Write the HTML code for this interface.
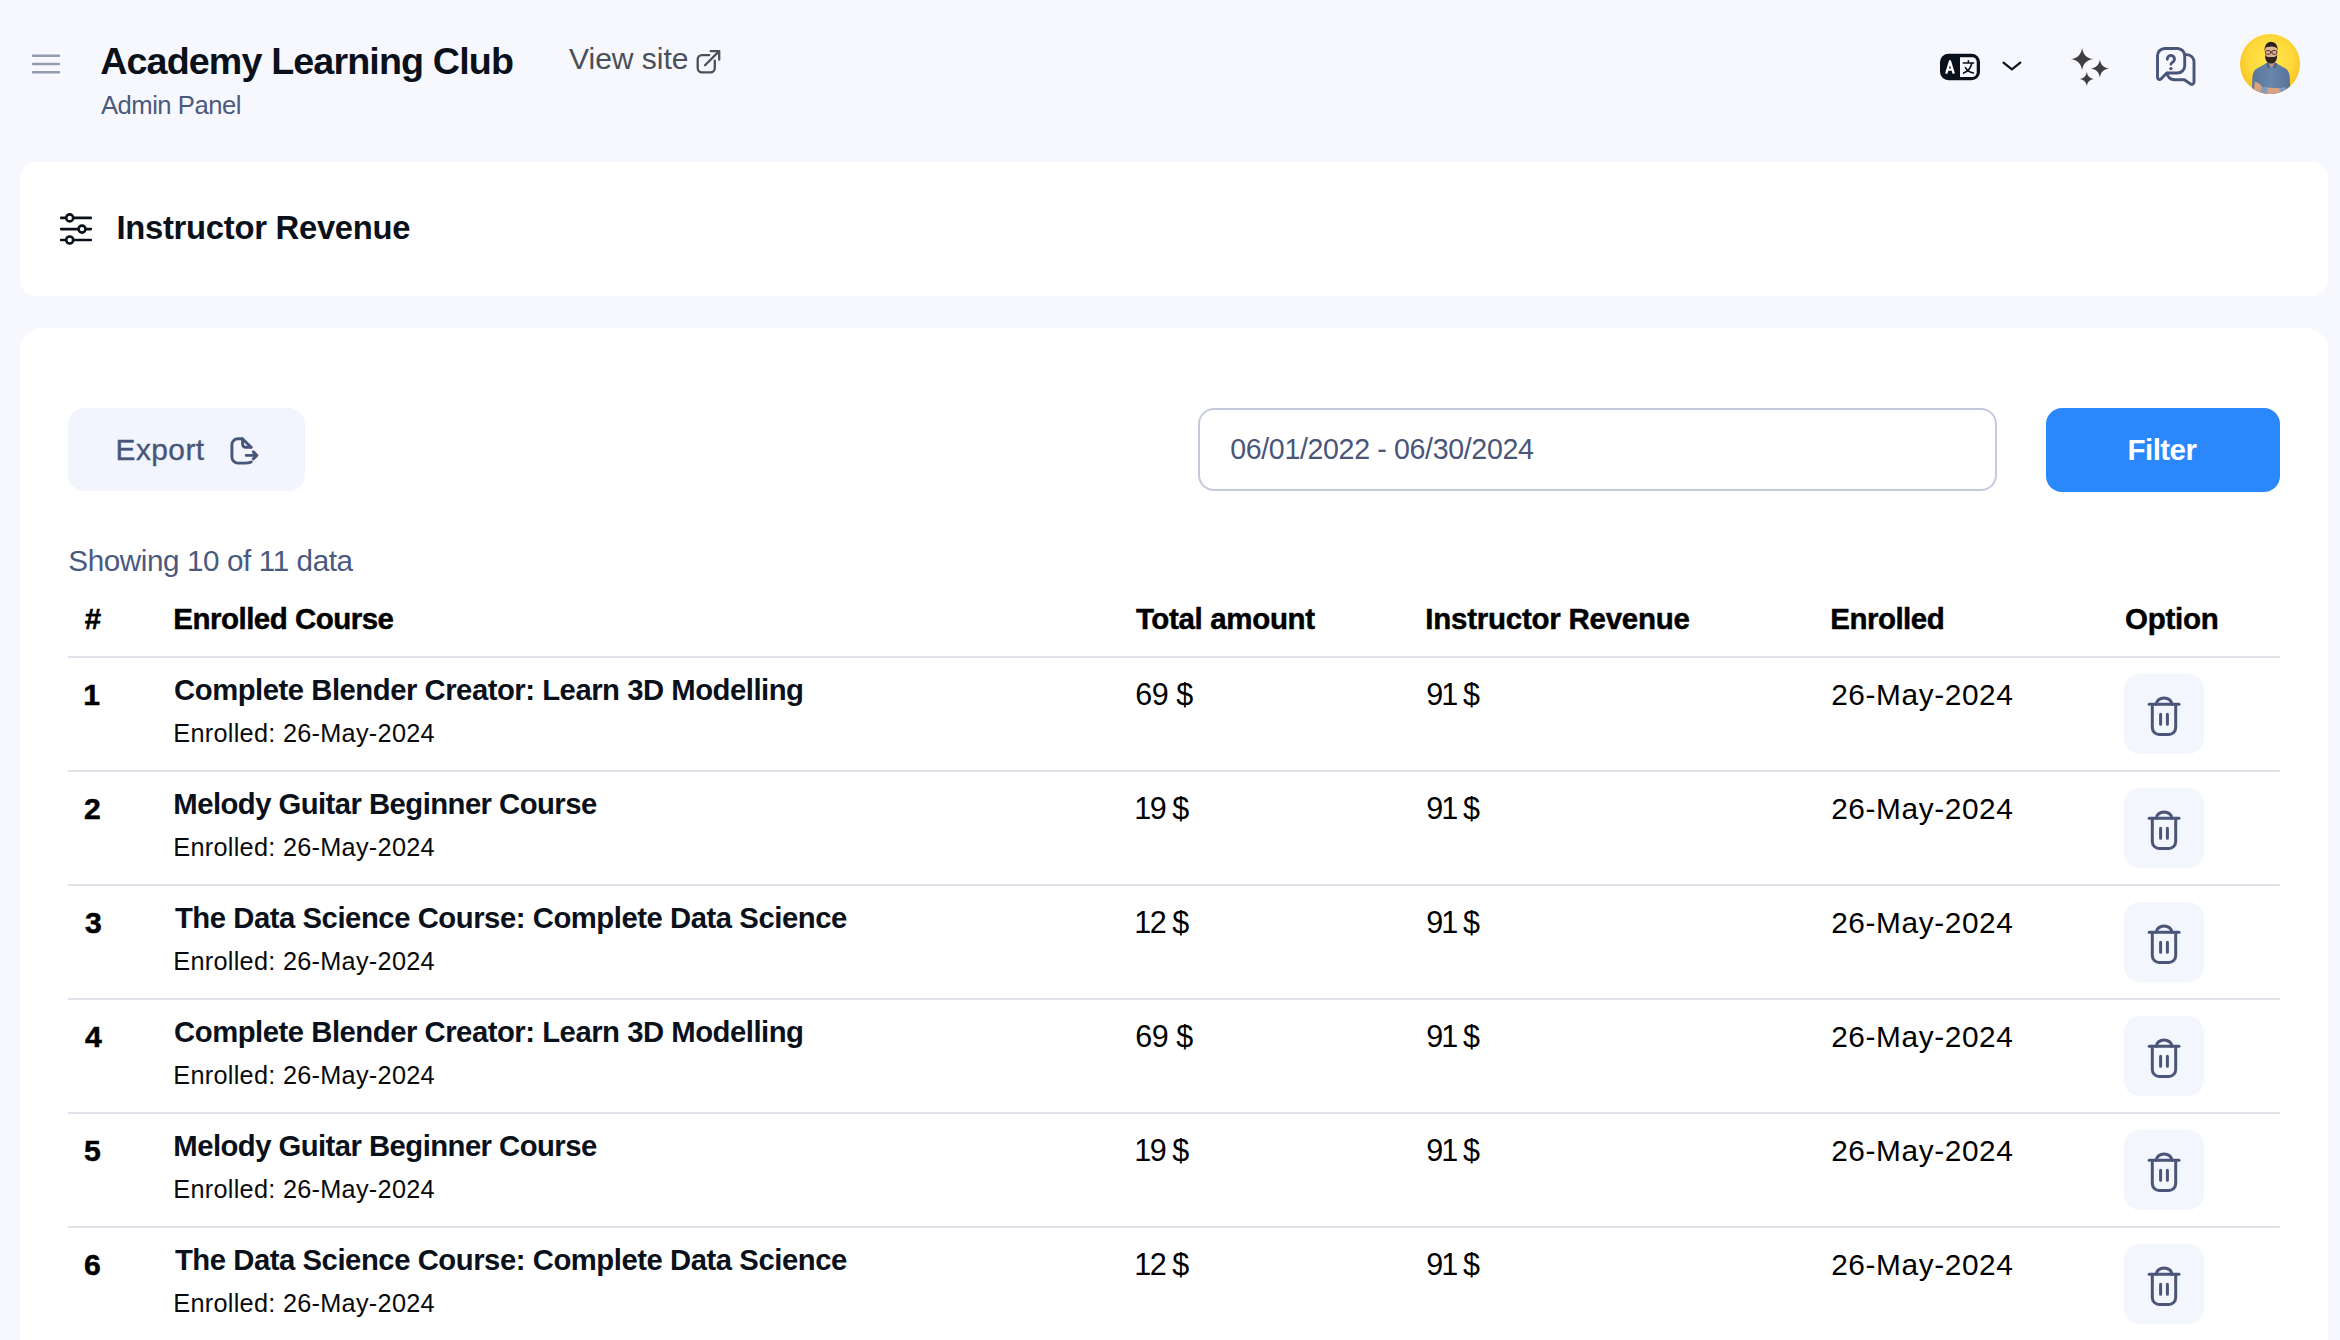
<!DOCTYPE html>
<html><head><meta charset="utf-8"><title>Instructor Revenue</title>
<style>
html,body{margin:0;padding:0;}
body{width:2340px;height:1340px;overflow:hidden;background:#f7f8fd;position:relative;font-family:"Liberation Sans",sans-serif;}
.t{position:absolute;white-space:pre;line-height:0;height:0;}
.card{position:absolute;background:#fff;border-radius:16px;}
.ln{position:absolute;left:68px;width:2212px;height:2px;background:#dfe2e8;}
.trash{position:absolute;left:2124px;width:80px;height:80px;border-radius:16px;background:#f3f6fd;}
.trash svg{position:absolute;left:0;top:0;}
svg{display:block;}
@media (max-width:1300px){html{zoom:0.5;}}
</style></head><body>
<!-- hamburger -->
<svg style="position:absolute;left:28px;top:50px" width="36" height="28" viewBox="28 50 36 28"><g stroke="#939bb0" stroke-width="2.4" stroke-linecap="round"><path d="M33 55.8H59M33 64H59M33 72.2H59"/></g></svg>
<!-- view site icon -->
<svg style="position:absolute;left:690px;top:44px" width="36" height="36" viewBox="690 44 36 36"><g fill="none" stroke="#4b4f57" stroke-width="2.3" stroke-linecap="round" stroke-linejoin="round"><path d="M709.3 55.1H702A4.3 4.3 0 0 0 697.7 59.4V68.1A4.3 4.3 0 0 0 702 72.4H710.5A4.3 4.3 0 0 0 714.8 68.1V60.6"/><path d="M705 65.3L719.2 51.1M710.6 51.1H719.2V59.7"/></g></svg>
<!-- translate icon -->
<svg style="position:absolute;left:1936px;top:48px" width="90" height="36" viewBox="1936 48 90 36">
<rect x="1940" y="53.7" width="40" height="26.5" rx="8.5" fill="#0b111a"/>
<path d="M1960 57.2H1972.2A4.5 4.5 0 0 1 1976.7 61.7V72.5A4.5 4.5 0 0 1 1972.2 77H1960Z" fill="#f7f8fd"/>
<path d="M1946.2 73.6L1950 61.3L1953.8 73.6M1947.4 69.6H1952.6" fill="none" stroke="#fff" stroke-width="2.3" stroke-linejoin="round"/>
<g fill="none" stroke="#0b111a" stroke-width="1.6" stroke-linecap="round"><path d="M1963.3 63H1973.6M1968.4 60.7V63M1971.7 63.5Q1970.3 70.5 1963.6 73.1M1965.4 67.6Q1967.6 71.8 1973.4 73"/></g>
<path d="M2003.5 62.7L2011.9 69.3L2020.3 62.7" fill="none" stroke="#0e1818" stroke-width="2.3" stroke-linecap="round" stroke-linejoin="round"/>
</svg>
<!-- sparkles -->
<svg style="position:absolute;left:2066px;top:44px" width="48" height="46" viewBox="2066 44 48 46"><g fill="#3f3f41"><path d="M2082.10 47.90C2083.00 54.40 2086.80 58.20 2093.30 59.10C2086.80 60.00 2083.00 63.80 2082.10 70.30C2081.20 63.80 2077.40 60.00 2070.90 59.10C2077.40 58.20 2081.20 54.40 2082.10 47.90Z"/><path d="M2099.90 59.50C2100.63 64.78 2103.72 67.87 2109.00 68.60C2103.72 69.33 2100.63 72.42 2099.90 77.70C2099.17 72.42 2096.08 69.33 2090.80 68.60C2096.08 67.87 2099.17 64.78 2099.90 59.50Z"/><path d="M2086.80 72.10C2087.36 76.16 2089.74 78.54 2093.80 79.10C2089.74 79.66 2087.36 82.04 2086.80 86.10C2086.24 82.04 2083.86 79.66 2079.80 79.10C2083.86 78.54 2086.24 76.16 2086.80 72.10Z"/></g></svg>
<!-- help icon -->
<svg style="position:absolute;left:2152px;top:43px" width="48" height="48" viewBox="0 0 48 48"><g transform="translate(4 4)" fill="none" stroke="#48557a" stroke-width="2.9" stroke-linecap="round" stroke-linejoin="round">
<path d="M10.8 26H21.5A7.2 7.2 0 0 0 28.7 18.8V8.7A7.2 7.2 0 0 0 21.5 1.5H8.7A7.2 7.2 0 0 0 1.5 8.7V30.2A2.2 2.2 0 0 0 4.9 32.1Z"/>
<path d="M28.7 7.6H30.8A7.2 7.2 0 0 1 38 14.8V35.1A2.2 2.2 0 0 1 34.6 37L28.3 32.7H18.2A7.2 7.2 0 0 1 11 26.2"/>
<path d="M11.3 12.2A3.6 3.6 0 1 1 17.6 14.4Q15 16.2 14.9 17.2"/>
</g><circle cx="18.9" cy="25.6" r="1.7" fill="#48557a"/></svg>
<!-- avatar -->
<svg style="position:absolute;left:2240px;top:34px" width="60" height="60" viewBox="0 0 60 60">
<defs><radialGradient id="ag" cx="0.5" cy="0.42" r="0.58"><stop offset="0" stop-color="#ffe750"/><stop offset="0.65" stop-color="#fed83a"/><stop offset="1" stop-color="#f8c11e"/></radialGradient>
<linearGradient id="sg" x1="0" y1="0" x2="1" y2="0"><stop offset="0" stop-color="#5a769c"/><stop offset="0.5" stop-color="#6885aa"/><stop offset="1" stop-color="#56729a"/></linearGradient>
<clipPath id="ac"><circle cx="30" cy="30" r="30"/></clipPath></defs>
<circle cx="30" cy="30" r="30" fill="url(#ag)"/>
<g clip-path="url(#ac)">
<path d="M12 62L12.3 44Q12.8 36.5 17 34.6L27.2 28.8H35.4L45.5 34.4Q49.5 36.5 49.8 44L50.5 62Z" fill="url(#sg)"/>
<path d="M28.3 28.4L31.6 33.9L34.8 28.4Z" fill="#c99376"/>
<path d="M27.4 28.6L30 33.5L28 34.5L25.8 29.6Z" fill="#4a6286"/><path d="M35.6 28.6L33.2 33.5L35.2 34.5L37.2 29.6Z" fill="#4a6286"/>
<path d="M14.8 47.6Q19 48.5 22.6 53.2L39.6 54.2Q42 54.2 44.6 53.3L45.8 58.5Q38 61 30 61Q21 60.5 13.8 57Z" fill="#d9a283"/>
<path d="M21.5 53L27.6 53.6L27.2 59.2L20.4 58.6Z" fill="#7f9dc0"/><path d="M39.4 54.2L44.8 53.2L46.5 58.4L40 59.4Z" fill="#7f9dc0"/>
<path d="M29 24.5H34V29.5Q31.5 31 29 29.5Z" fill="#c58f72"/>
<ellipse cx="31.2" cy="18.2" rx="6" ry="7.4" fill="#e2b295"/>
<path d="M24.6 17.8Q24 8.2 31 7.8Q38 8 37.8 17.5L36.8 14.2Q33.8 11.2 25.8 13.6Z" fill="#2a211f"/>
<path d="M25 20.2Q24.6 29.6 31.1 29.4Q37.6 29.6 37.2 20.2Q36 23.6 31.1 23Q26.2 23.6 25 20.2Z" fill="#2d231f"/>
<g fill="none" stroke="#3b2d29" stroke-width="0.9"><rect x="25.6" y="16.6" width="4.8" height="3.6" rx="1"/><rect x="32" y="16.6" width="4.8" height="3.6" rx="1"/><path d="M30.4 17.8H32"/></g>
</g></svg>
<!-- card 1 -->
<div class="card" style="left:20px;top:162px;width:2308px;height:134px"></div>
<svg style="position:absolute;left:56px;top:208px" width="40" height="40" viewBox="56 208 40 40"><g fill="none" stroke="#0b111a" stroke-width="2.6" stroke-linecap="round">
<path d="M61.2 217.9H65.2M74.3 217.9H90.8M61.2 229.1H77.4M86.6 229.1H90.8M61.2 240H65.2M74.3 240H90.8"/>
<circle cx="69.7" cy="217.9" r="3.5"/><circle cx="82" cy="229.1" r="3.5"/><circle cx="69.7" cy="240" r="3.5"/></g></svg>
<!-- card 2 -->
<div class="card" style="left:20px;top:328px;width:2308px;height:1100px;border-radius:22px"></div>
<!-- export button -->
<div style="position:absolute;left:68px;top:408px;width:237px;height:83px;border-radius:16px;background:#f2f5fd"></div>
<svg style="position:absolute;left:226px;top:432px" width="36" height="38" viewBox="226 432 36 38"><g fill="none" stroke="#48557a" stroke-width="2.9" stroke-linecap="round" stroke-linejoin="round">
<path d="M251.2 461.9Q249 463.1 244.6 463.1H237.9A6 6 0 0 1 231.9 457.1V444.8A6 6 0 0 1 237.9 438.8H242.4L251.2 447.3"/>
<path d="M242.6 439V444.3A3 3 0 0 0 245.6 447.3H251"/>
<path d="M246.2 455.4H256.6M253.3 451.9L256.8 455.4L253.3 458.9"/>
</g></svg>
<!-- date input -->
<div style="position:absolute;left:1198px;top:408px;width:795px;height:79px;border:2px solid #c4cadb;border-radius:16px;background:#fff"></div>
<!-- filter -->
<div style="position:absolute;left:2046px;top:408px;width:234px;height:84px;border-radius:16px;background:#2a88fc"></div>
<!-- header line -->
<div class="ln" style="top:656px"></div>
<div class="t" style="left:100.16px;top:60.94px;font-size:37.67px;letter-spacing:-0.866px;font-weight:700;color:#0b111a;">Academy Learning Club</div>
<div class="t" style="left:100.90px;top:105.21px;font-size:25.64px;letter-spacing:-0.475px;font-weight:400;color:#4a5a7e;">Admin Panel</div>
<div class="t" style="left:569.02px;top:59.47px;font-size:30.09px;letter-spacing:-0.045px;font-weight:400;color:#4b4f57;">View site</div>
<div class="t" style="left:116.38px;top:228.33px;font-size:32.79px;letter-spacing:-0.268px;font-weight:700;color:#0b111a;">Instructor Revenue</div>
<div class="t" style="left:115.56px;top:449.64px;font-size:29.89px;letter-spacing:0.448px;font-weight:400;color:#48557a;-webkit-text-stroke:0.35px #48557a;">Export</div>
<div class="t" style="left:1230.16px;top:448.88px;font-size:28.60px;letter-spacing:-0.358px;font-weight:400;color:#4a5678;">06/01/2022 - 06/30/2024</div>
<div class="t" style="left:2127.50px;top:449.96px;font-size:29.55px;letter-spacing:-0.546px;font-weight:700;color:#ffffff;">Filter</div>
<div class="t" style="left:68.30px;top:560.92px;font-size:29.65px;letter-spacing:-0.402px;font-weight:400;color:#4a5a7e;">Showing 10 of 11 data</div>
<div class="t" style="left:84.86px;top:618.97px;font-size:29.50px;letter-spacing:0.000px;font-weight:700;color:#000000;-webkit-text-stroke:0.45px #000;">#</div>
<div class="t" style="left:173.32px;top:618.97px;font-size:29.50px;letter-spacing:-0.515px;font-weight:700;color:#000000;-webkit-text-stroke:0.45px #000;">Enrolled Course</div>
<div class="t" style="left:1135.88px;top:618.97px;font-size:29.50px;letter-spacing:-0.340px;font-weight:700;color:#000000;-webkit-text-stroke:0.45px #000;">Total amount</div>
<div class="t" style="left:1425.24px;top:618.97px;font-size:29.50px;letter-spacing:-0.241px;font-weight:700;color:#000000;-webkit-text-stroke:0.45px #000;">Instructor Revenue</div>
<div class="t" style="left:1830.36px;top:618.97px;font-size:29.50px;letter-spacing:-0.529px;font-weight:700;color:#000000;-webkit-text-stroke:0.45px #000;">Enrolled</div>
<div class="t" style="left:2125.08px;top:618.97px;font-size:29.50px;letter-spacing:-0.268px;font-weight:700;color:#000000;-webkit-text-stroke:0.45px #000;">Option</div>
<div class="t" style="left:83.30px;top:694.84px;font-size:30.17px;letter-spacing:0.000px;font-weight:700;color:#000000;-webkit-text-stroke:0.5px #000;">1</div>
<div class="t" style="left:174.12px;top:690.05px;font-size:29.27px;letter-spacing:-0.479px;font-weight:700;color:#0b111a;">Complete Blender Creator: Learn 3D Modelling</div>
<div class="t" style="left:173.32px;top:733.23px;font-size:25.29px;letter-spacing:0.278px;font-weight:400;color:#0a0a0a;">Enrolled: 26-May-2024</div>
<div class="t" style="left:1135.14px;top:694.42px;font-size:30.52px;letter-spacing:-0.443px;font-weight:400;color:#000000;">69 $</div>
<div class="t" style="left:1426.14px;top:694.42px;font-size:30.52px;letter-spacing:-1.823px;font-weight:400;color:#000000;">91 $</div>
<div class="t" style="left:1831.16px;top:694.57px;font-size:29.80px;letter-spacing:0.610px;font-weight:400;color:#000000;">26-May-2024</div>
<div class="ln" style="top:770px"></div>
<div class="trash" style="top:674px"><svg width="80" height="80" viewBox="2124 674 80 80"><g transform="translate(0 0)" fill="none" stroke="#4a5578" stroke-width="3" stroke-linecap="round"><path d="M2149.2 704.3H2179"/><path d="M2156.4 704.3A7.7 6.4 0 0 1 2171.8 704.3"/><path d="M2152.3 706V727.5A7 7 0 0 0 2159.3 734.5H2168.7A7 7 0 0 0 2175.7 727.5V706"/><path d="M2160.6 714.3V724.3M2167.4 714.3V724.3"/></g></svg></div>
<div class="t" style="left:84.10px;top:808.84px;font-size:30.17px;letter-spacing:0.000px;font-weight:700;color:#000000;-webkit-text-stroke:0.5px #000;">2</div>
<div class="t" style="left:173.32px;top:804.05px;font-size:29.27px;letter-spacing:-0.543px;font-weight:700;color:#0b111a;">Melody Guitar Beginner Course</div>
<div class="t" style="left:173.32px;top:847.23px;font-size:25.29px;letter-spacing:0.278px;font-weight:400;color:#0a0a0a;">Enrolled: 26-May-2024</div>
<div class="t" style="left:1134.34px;top:808.42px;font-size:30.52px;letter-spacing:-1.530px;font-weight:400;color:#000000;">19 $</div>
<div class="t" style="left:1426.14px;top:808.42px;font-size:30.52px;letter-spacing:-1.823px;font-weight:400;color:#000000;">91 $</div>
<div class="t" style="left:1831.16px;top:808.57px;font-size:29.80px;letter-spacing:0.610px;font-weight:400;color:#000000;">26-May-2024</div>
<div class="ln" style="top:884px"></div>
<div class="trash" style="top:788px"><svg width="80" height="80" viewBox="2124 788 80 80"><g transform="translate(0 114)" fill="none" stroke="#4a5578" stroke-width="3" stroke-linecap="round"><path d="M2149.2 704.3H2179"/><path d="M2156.4 704.3A7.7 6.4 0 0 1 2171.8 704.3"/><path d="M2152.3 706V727.5A7 7 0 0 0 2159.3 734.5H2168.7A7 7 0 0 0 2175.7 727.5V706"/><path d="M2160.6 714.3V724.3M2167.4 714.3V724.3"/></g></svg></div>
<div class="t" style="left:84.90px;top:922.84px;font-size:30.17px;letter-spacing:0.000px;font-weight:700;color:#000000;-webkit-text-stroke:0.5px #000;">3</div>
<div class="t" style="left:174.92px;top:918.05px;font-size:29.27px;letter-spacing:-0.456px;font-weight:700;color:#0b111a;">The Data Science Course: Complete Data Science</div>
<div class="t" style="left:173.32px;top:961.23px;font-size:25.29px;letter-spacing:0.278px;font-weight:400;color:#0a0a0a;">Enrolled: 26-May-2024</div>
<div class="t" style="left:1134.34px;top:922.42px;font-size:30.52px;letter-spacing:-1.530px;font-weight:400;color:#000000;">12 $</div>
<div class="t" style="left:1426.14px;top:922.42px;font-size:30.52px;letter-spacing:-1.823px;font-weight:400;color:#000000;">91 $</div>
<div class="t" style="left:1831.16px;top:922.57px;font-size:29.80px;letter-spacing:0.610px;font-weight:400;color:#000000;">26-May-2024</div>
<div class="ln" style="top:998px"></div>
<div class="trash" style="top:902px"><svg width="80" height="80" viewBox="2124 902 80 80"><g transform="translate(0 228)" fill="none" stroke="#4a5578" stroke-width="3" stroke-linecap="round"><path d="M2149.2 704.3H2179"/><path d="M2156.4 704.3A7.7 6.4 0 0 1 2171.8 704.3"/><path d="M2152.3 706V727.5A7 7 0 0 0 2159.3 734.5H2168.7A7 7 0 0 0 2175.7 727.5V706"/><path d="M2160.6 714.3V724.3M2167.4 714.3V724.3"/></g></svg></div>
<div class="t" style="left:84.90px;top:1036.84px;font-size:30.17px;letter-spacing:0.000px;font-weight:700;color:#000000;-webkit-text-stroke:0.5px #000;">4</div>
<div class="t" style="left:174.12px;top:1032.05px;font-size:29.27px;letter-spacing:-0.479px;font-weight:700;color:#0b111a;">Complete Blender Creator: Learn 3D Modelling</div>
<div class="t" style="left:173.32px;top:1075.23px;font-size:25.29px;letter-spacing:0.278px;font-weight:400;color:#0a0a0a;">Enrolled: 26-May-2024</div>
<div class="t" style="left:1135.14px;top:1036.42px;font-size:30.52px;letter-spacing:-0.443px;font-weight:400;color:#000000;">69 $</div>
<div class="t" style="left:1426.14px;top:1036.42px;font-size:30.52px;letter-spacing:-1.823px;font-weight:400;color:#000000;">91 $</div>
<div class="t" style="left:1831.16px;top:1036.57px;font-size:29.80px;letter-spacing:0.610px;font-weight:400;color:#000000;">26-May-2024</div>
<div class="ln" style="top:1112px"></div>
<div class="trash" style="top:1016px"><svg width="80" height="80" viewBox="2124 1016 80 80"><g transform="translate(0 342)" fill="none" stroke="#4a5578" stroke-width="3" stroke-linecap="round"><path d="M2149.2 704.3H2179"/><path d="M2156.4 704.3A7.7 6.4 0 0 1 2171.8 704.3"/><path d="M2152.3 706V727.5A7 7 0 0 0 2159.3 734.5H2168.7A7 7 0 0 0 2175.7 727.5V706"/><path d="M2160.6 714.3V724.3M2167.4 714.3V724.3"/></g></svg></div>
<div class="t" style="left:84.10px;top:1150.84px;font-size:30.17px;letter-spacing:0.000px;font-weight:700;color:#000000;-webkit-text-stroke:0.5px #000;">5</div>
<div class="t" style="left:173.32px;top:1146.05px;font-size:29.27px;letter-spacing:-0.543px;font-weight:700;color:#0b111a;">Melody Guitar Beginner Course</div>
<div class="t" style="left:173.32px;top:1189.23px;font-size:25.29px;letter-spacing:0.278px;font-weight:400;color:#0a0a0a;">Enrolled: 26-May-2024</div>
<div class="t" style="left:1134.34px;top:1150.42px;font-size:30.52px;letter-spacing:-1.530px;font-weight:400;color:#000000;">19 $</div>
<div class="t" style="left:1426.14px;top:1150.42px;font-size:30.52px;letter-spacing:-1.823px;font-weight:400;color:#000000;">91 $</div>
<div class="t" style="left:1831.16px;top:1150.57px;font-size:29.80px;letter-spacing:0.610px;font-weight:400;color:#000000;">26-May-2024</div>
<div class="ln" style="top:1226px"></div>
<div class="trash" style="top:1130px"><svg width="80" height="80" viewBox="2124 1130 80 80"><g transform="translate(0 456)" fill="none" stroke="#4a5578" stroke-width="3" stroke-linecap="round"><path d="M2149.2 704.3H2179"/><path d="M2156.4 704.3A7.7 6.4 0 0 1 2171.8 704.3"/><path d="M2152.3 706V727.5A7 7 0 0 0 2159.3 734.5H2168.7A7 7 0 0 0 2175.7 727.5V706"/><path d="M2160.6 714.3V724.3M2167.4 714.3V724.3"/></g></svg></div>
<div class="t" style="left:84.10px;top:1264.84px;font-size:30.17px;letter-spacing:0.000px;font-weight:700;color:#000000;-webkit-text-stroke:0.5px #000;">6</div>
<div class="t" style="left:174.92px;top:1260.05px;font-size:29.27px;letter-spacing:-0.456px;font-weight:700;color:#0b111a;">The Data Science Course: Complete Data Science</div>
<div class="t" style="left:173.32px;top:1303.23px;font-size:25.29px;letter-spacing:0.278px;font-weight:400;color:#0a0a0a;">Enrolled: 26-May-2024</div>
<div class="t" style="left:1134.34px;top:1264.42px;font-size:30.52px;letter-spacing:-1.530px;font-weight:400;color:#000000;">12 $</div>
<div class="t" style="left:1426.14px;top:1264.42px;font-size:30.52px;letter-spacing:-1.823px;font-weight:400;color:#000000;">91 $</div>
<div class="t" style="left:1831.16px;top:1264.57px;font-size:29.80px;letter-spacing:0.610px;font-weight:400;color:#000000;">26-May-2024</div>
<div class="ln" style="top:1340px"></div>
<div class="trash" style="top:1244px"><svg width="80" height="80" viewBox="2124 1244 80 80"><g transform="translate(0 570)" fill="none" stroke="#4a5578" stroke-width="3" stroke-linecap="round"><path d="M2149.2 704.3H2179"/><path d="M2156.4 704.3A7.7 6.4 0 0 1 2171.8 704.3"/><path d="M2152.3 706V727.5A7 7 0 0 0 2159.3 734.5H2168.7A7 7 0 0 0 2175.7 727.5V706"/><path d="M2160.6 714.3V724.3M2167.4 714.3V724.3"/></g></svg></div>
</body></html>
